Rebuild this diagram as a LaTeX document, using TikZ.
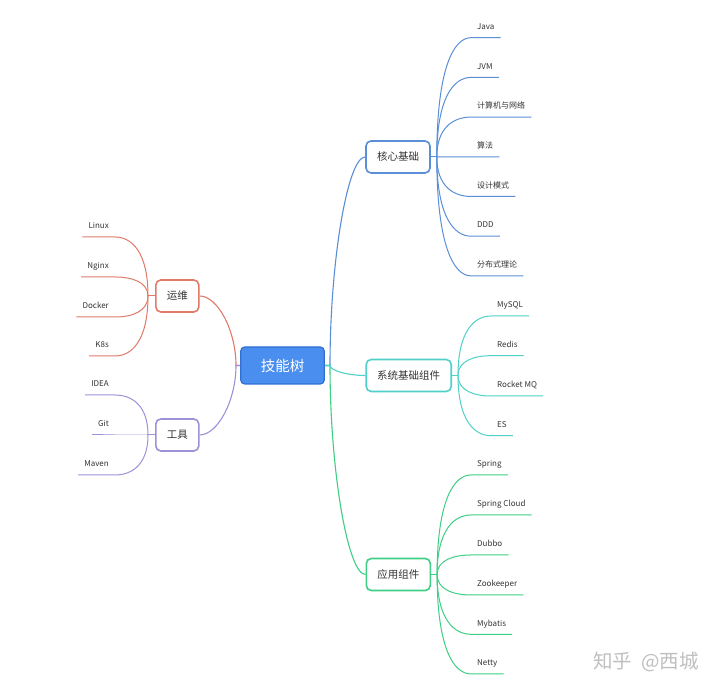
\documentclass[tikz,border=0pt]{standalone}
\usepackage{fontspec}
\setmainfont{Noto Sans CJK SC}
\usetikzlibrary{calc}
\definecolor{rootfill}{HTML}{4A8EF0}
\definecolor{rootdraw}{HTML}{2F6FD0}
\definecolor{corecol}{HTML}{5A8FD8}
\definecolor{syscol}{HTML}{4FD1C9}
\definecolor{appcol}{HTML}{3ECF85}
\definecolor{opscol}{HTML}{E07B6A}
\definecolor{toolcol}{HTML}{9C92D8}
\definecolor{inkcol}{HTML}{333333}
\tikzset{
	elbow/.style 2 args={to path={.. controls ($(\tikztostart)!#1!(\tikztostart |- \tikztotarget)$) and ($(\tikztotarget)!#2!(\tikztostart |- \tikztotarget)$) .. (\tikztotarget) \tikztonodes}},
	leaf link/.style={elbow={0.75}{0.5}},
	branch link/.style={elbow={0.5}{0.5}},
	box/.style={draw, line width=1.6pt, rounded corners=5pt, fill=white, text=inkcol, font=\fontsize{10.5}{12}\selectfont, inner xsep=11pt, minimum height=32pt},
	leaf/.style={text=inkcol, font=\fontsize{8}{9}\selectfont, inner xsep=6pt, inner ysep=6pt, text height=6pt, text depth=2pt},
	leafline/.style={line width=1pt},
	mainline/.style={line width=1.1pt}
}

\begin{document}
\begin{tikzpicture}[x=1pt, y=1pt]
			%%%%% START %%%%%
			\useasboundingbox[fill=white] (0, 0) rectangle (720, 692);
			
			\node[draw=rootdraw, fill=rootfill, line width=1.2pt, rounded corners=4pt, text=white, font=\fontsize{14.5}{16}\selectfont, inner xsep=20pt, minimum height=37pt] (root) at (282.5, 326.5) {技能树};
			
			\node[box, draw=corecol] (core) at (398, 535) {核心基础};
			\node[box, draw=syscol] (sys) at (408.7, 316.5) {系统基础组件};
			\node[box, draw=appcol] (app) at (398.3, 117.5) {应用组件};
			\node[box, draw=opscol] (ops) at (177.3, 396) {运维};
			\node[box, draw=toolcol] (tool) at (177.3, 257) {工具};
			
			\coordinate (jr) at (330, 326.5);
			\coordinate (jl) at (236, 326.5);
			\coordinate (bcore) at ([xshift=6pt]core.east);
			\coordinate (bsys) at ([xshift=6pt]sys.east);
			\coordinate (bapp) at ([xshift=6pt]app.east);
			\coordinate (bops) at ([xshift=-7pt]ops.west);
			\coordinate (btool) at ([xshift=-7pt]tool.west);
			
			% core
			\node[leaf, anchor=south west] (java) at (471, 654.3) {Java};
			\node[leaf, anchor=south west] (jvm) at (471, 614.6) {JVM};
			\node[leaf, anchor=south west] (net) at (471, 574.9) {计算机与网络};
			\node[leaf, anchor=south west] (algo) at (471, 535.2) {算法};
			\node[leaf, anchor=south west] (dp) at (471, 495.5) {设计模式};
			\node[leaf, anchor=south west] (ddd) at (471, 455.8) {DDD};
			\node[leaf, anchor=south west] (dist) at (471, 416.1) {分布式理论};
			
			% sys
			\node[leaf, anchor=south west] (mysql) at (491, 376) {MySQL};
			\node[leaf, anchor=south west] (redis) at (491, 336.3) {Redis};
			\node[leaf, anchor=south west] (mq) at (491, 296) {Rocket MQ};
			\node[leaf, anchor=south west] (es) at (491, 256.3) {ES};
			
			% app
			\node[leaf, anchor=south west] (spring) at (471, 217) {Spring};
			\node[leaf, anchor=south west] (cloud) at (471, 177) {Spring Cloud};
			\node[leaf, anchor=south west] (dubbo) at (471, 137) {Dubbo};
			\node[leaf, anchor=south west] (zk) at (471, 97) {Zookeeper};
			\node[leaf, anchor=south west] (mybatis) at (471, 57.7) {Mybatis};
			\node[leaf, anchor=south west] (netty) at (471, 18) {Netty};
			
			% ops
			\node[leaf, anchor=south east] (linux) at (115, 455) {Linux};
			\node[leaf, anchor=south east] (nginx) at (115, 415) {Nginx};
			\node[leaf, anchor=south east] (docker) at (115, 375) {Docker};
			\node[leaf, anchor=south east] (k8s) at (115, 336) {K8s};
			
			% tool
			\node[leaf, anchor=south east] (idea) at (115, 297) {IDEA};
			\node[leaf, anchor=south east] (git) at (115, 257) {Git};
			\node[leaf, anchor=south east] (maven) at (115, 217) {Maven};
			
			\draw[mainline, corecol] (root.east) -- (jr) to[branch link] (core.west);
			\draw[mainline, appcol] (root.east) -- (jr) to[branch link] (app.west);
			\draw[mainline, syscol] (root.east) -- (jr) to[branch link] (sys.west);
			\draw[mainline, opscol] (root.west) -- (jl) to[branch link] (ops.east);
			\draw[mainline, toolcol] (root.west) -- (jl) to[branch link] (tool.east);
			
			\draw[leafline, corecol] (core.east) -- (bcore);
			\draw[leafline, corecol] (bcore) to[leaf link] (java.south west) -- (java.south east);
			\draw[leafline, corecol] (bcore) to[leaf link] (jvm.south west) -- (jvm.south east);
			\draw[leafline, corecol] (bcore) to[leaf link] (net.south west) -- (net.south east);
			\draw[leafline, corecol] (bcore) to[leaf link] (algo.south west) -- (algo.south east);
			\draw[leafline, corecol] (bcore) to[leaf link] (dp.south west) -- (dp.south east);
			\draw[leafline, corecol] (bcore) to[leaf link] (ddd.south west) -- (ddd.south east);
			\draw[leafline, corecol] (bcore) to[leaf link] (dist.south west) -- (dist.south east);
			
			\draw[leafline, syscol] (sys.east) -- (bsys);
			\draw[leafline, syscol] (bsys) to[leaf link] (mysql.south west) -- (mysql.south east);
			\draw[leafline, syscol] (bsys) to[leaf link] (redis.south west) -- (redis.south east);
			\draw[leafline, syscol] (bsys) to[leaf link] (mq.south west) -- (mq.south east);
			\draw[leafline, syscol] (bsys) to[leaf link] (es.south west) -- (es.south east);
			
			\draw[leafline, appcol] (app.east) -- (bapp);
			\draw[leafline, appcol] (bapp) to[leaf link] (spring.south west) -- (spring.south east);
			\draw[leafline, appcol] (bapp) to[leaf link] (cloud.south west) -- (cloud.south east);
			\draw[leafline, appcol] (bapp) to[leaf link] (dubbo.south west) -- (dubbo.south east);
			\draw[leafline, appcol] (bapp) to[leaf link] (zk.south west) -- (zk.south east);
			\draw[leafline, appcol] (bapp) to[leaf link] (mybatis.south west) -- (mybatis.south east);
			\draw[leafline, appcol] (bapp) to[leaf link] (netty.south west) -- (netty.south east);
			
			\draw[leafline, opscol] (ops.west) -- (bops);
			\draw[leafline, opscol] (bops) to[leaf link] (linux.south east) -- (linux.south west);
			\draw[leafline, opscol] (bops) to[leaf link] (nginx.south east) -- (nginx.south west);
			\draw[leafline, opscol] (bops) to[leaf link] (docker.south east) -- (docker.south west);
			\draw[leafline, opscol] (bops) to[leaf link] (k8s.south east) -- (k8s.south west);
			
			\draw[leafline, toolcol] (tool.west) -- (btool);
			\draw[leafline, toolcol] (btool) to[leaf link] (idea.south east) -- (idea.south west);
			\draw[leafline, toolcol] (btool) to[leaf link] (git.south east) -- (git.south west);
			\draw[leafline, toolcol] (btool) to[leaf link] (maven.south east) -- (maven.south west);
			
			\node[text=black!25, font=\fontsize{19.5}{22}\selectfont] (wm) at (646, 30) {知乎\ \ @西城};
			
			%%%%% END %%%%%
\end{tikzpicture}
\end{document}
